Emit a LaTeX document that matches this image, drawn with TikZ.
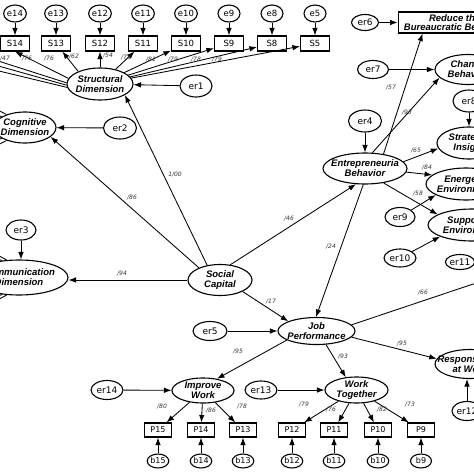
\documentclass[tikz,border=0pt]{standalone}
\usepackage{fontspec}
\setmainfont{DejaVu Sans}
\newfontfamily\latfam{Liberation Sans}
\usetikzlibrary{shapes.geometric,arrows.meta,calc}
\begin{document}
\begin{tikzpicture}[x=1pt,y=-1pt,
  lat/.style={ellipse, draw, line width=1.1pt, inner sep=0pt},
  latl/.style={align=center, inner sep=0pt, font=\latfam\bfseries\itshape\fontsize{9.5}{10}\selectfont},
  redbox/.style={rectangle, draw, line width=1.1pt, inner sep=0pt, align=center, font=\latfam\bfseries\itshape\fontsize{9.5}{9.5}\selectfont},
  errn/.style={ellipse, draw, line width=1.1pt, inner sep=0pt, font=\fontsize{9}{10}\selectfont},
  etop/.style={ellipse, draw, line width=1.1pt, inner sep=0pt, minimum width=22pt, minimum height=17pt, font=\fontsize{8.5}{9}\selectfont},
  bsm/.style={ellipse, draw, line width=1.1pt, inner sep=0pt, minimum width=21pt, minimum height=14pt, font=\fontsize{8}{9}\selectfont},
  ind/.style={rectangle, draw, line width=1.1pt, inner sep=0pt, minimum width=29pt, minimum height=15pt, font=\fontsize{8.5}{9}\selectfont},
  pind/.style={rectangle, draw, line width=1.1pt, inner sep=0pt, minimum width=27pt, minimum height=14pt, font=\fontsize{8}{9}\selectfont},
  arr/.style={-{Latex[length=7.5pt,width=5.5pt]}, line width=0.85pt},
  ld/.style={inner sep=0pt, text=black!80, font=\fontsize{6}{7}\selectfont\itshape}]
\useasboundingbox (0,0) rectangle (474,474);
\fill[white] (0,0) rectangle (474,474);
\clip (0,0) rectangle (474,474);

% ---------- top indicators ----------
\foreach \n/\x in {14/15,13/56,12/100,11/143,10/186,9/229,8/272,5/315} {
  \node[etop] (e\n) at (\x,13.5) {e\n};
  \node[ind] (S\n) at (\x,43.5) {S\n};
  \draw[arr] (e\n) -- (S\n);
}

% ---------- latent variables ----------
\node[lat, minimum width=66pt, minimum height=32pt, label={[latl]center:Structural\\Dimension}] (struct) at (100,84) {};
\node[lat, minimum width=62pt, minimum height=31pt, label={[latl]center:Cognitive\\Dimension}] (cog) at (25,127.5) {};
\node[lat, minimum width=98pt, minimum height=35pt, label={[latl]center:Communication\\Dimension}] (comm) at (19,277.5) {};
\node[lat, minimum width=64pt, minimum height=31pt, label={[latl]center:Social\\Capital}] (social) at (220,280) {};
\node[lat, minimum width=84pt, minimum height=31pt, label={[latl]center:Entrepreneuria\\Behavior}] (entre) at (365,168.5) {};
\node[lat, minimum width=77pt, minimum height=27pt, label={[latl]center:Job\\Performance}] (job) at (316.5,331) {};
\node[lat, minimum width=66pt, minimum height=30pt, label={[latl]center:Change\\Behavior}] (change) at (468,69.5) {};
\node[lat, minimum width=64pt, minimum height=32pt, label={[latl]center:Strategic\\Insight}] (strat) at (469,143) {};
\node[lat, minimum width=80pt, minimum height=32pt, label={[latl]center:Energetic\\Environment}] (energ) at (466,184) {};
\node[lat, minimum width=88pt, minimum height=32pt, label={[latl]center:Supportive\\Environment}] (supp) at (472,225) {};
\node[lat, minimum width=70pt, minimum height=29pt, label={[latl]center:Responsibility\\at Work}] (resp) at (470,364) {};
\node[lat, minimum width=62pt, minimum height=25pt, label={[latl]center:Improve\\Work}] (improve) at (203,390.5) {};
\node[lat, minimum width=63pt, minimum height=26pt, label={[latl]center:Work\\Together}] (work) at (356.5,390) {};
\node[redbox, minimum width=113pt, minimum height=21pt] (reduce) at (454.6,22.5) {Reduce the\\Bureaucratic Behavior};

% ---------- error terms ----------
\node[errn, minimum width=32pt, minimum height=22pt] (er1) at (196,86) {er1};
\node[errn, minimum width=33pt, minimum height=22pt] (er2) at (120,128) {er2};
\node[errn, minimum width=30pt, minimum height=20pt] (er3) at (21,230) {er3};
\node[errn, minimum width=33pt, minimum height=22pt] (er4) at (365,121) {er4};
\node[errn, minimum width=34pt, minimum height=19pt] (er5) at (210,331) {er5};
\node[errn, minimum width=27pt, minimum height=16pt] (er6) at (365,22.5) {er6};
\node[errn, minimum width=31pt, minimum height=18pt] (er7) at (373,69.5) {er7};
\node[errn, minimum width=32pt, minimum height=22pt] (er8) at (469,101) {er8};
\node[errn, minimum width=30pt, minimum height=19pt] (er9) at (400,217) {er9};
\node[errn, minimum width=32pt, minimum height=18pt] (er10) at (400,258) {er10};
\node[errn, minimum width=28pt, minimum height=15pt] (er11) at (460,262) {er11};
\node[errn, minimum width=30pt, minimum height=19pt] (er12) at (467,411) {er12};
\node[errn, minimum width=32pt, minimum height=18pt] (er13) at (261,390) {er13};
\node[errn, minimum width=32pt, minimum height=19pt] (er14) at (107,390) {er14};

% ---------- bottom indicators ----------
\foreach \n/\x in {15/158,14/201,13/243,12/292,11/334,10/378,9/421} {
  \node[pind] (P\n) at (\x,430) {P\n};
  \node[bsm] (b\n) at (\x,461) {b\n};
  \draw[arr] (b\n) -- (P\n);
}

% ---------- off-picture end points ----------
\coordinate (ol1) at (-30,52);
\coordinate (ol2) at (-30,58);
\coordinate (ol3) at (-30,64);
\coordinate (oc1) at (-25,98);
\coordinate (oc2) at (-25,106);
\coordinate (oc3) at (-25,149);
\coordinate (oc4) at (-25,157);
\coordinate (om1) at (-25,243);
\coordinate (om2) at (-25,250);
\coordinate (om3) at (-25,257);
\coordinate (om4) at (-25,298);
\coordinate (om5) at (-25,305);
\coordinate (om6) at (-25,312);
\coordinate (x11) at (500,258);
\coordinate (o66) at (500,275);

% ---------- structural loadings ----------
\draw[arr] (struct.178) -- (ol1);
\draw[arr] (struct.182) -- (ol2);
\draw[arr] (struct.186) -- (ol3);
\draw[arr] (struct.170) -- (S14.south);
\draw[arr] (struct.150) -- (S13);
\draw[arr] (struct) -- (S12);
\draw[arr] (struct) -- (S11);
\draw[arr] (struct) -- (S10);
\draw[arr] (struct) -- (S9);
\draw[arr] (struct) -- (S8);
\draw[arr] (struct) -- (S5);

% cognitive / communication indicators (off picture)
\draw[arr] (cog.145) -- (oc1);
\draw[arr] (cog.155) -- (oc2);
\draw[arr] (cog.205) -- (oc3);
\draw[arr] (cog.215) -- (oc4);
\draw[arr] (comm.125) -- (om1);
\draw[arr] (comm.135) -- (om2);
\draw[arr] (comm.145) -- (om3);
\draw[arr] (comm.215) -- (om4);
\draw[arr] (comm.225) -- (om5);
\draw[arr] (comm.235) -- (om6);

% ---------- structural paths ----------
\draw[arr] (social.131) -- (struct.-24);
\draw[arr] (social.150) -- (cog.-20);
\draw[arr] (social.west) -- (social.west -| comm.east);
\draw[arr] (social.56) -- (entre.240);
\draw[arr] (social.-27) -- (job.161);
\draw[arr] (entre.-96) -- (job.92);

\draw[arr] (entre.38) -- ($(reduce.south west)+(25,0)$);
\draw[arr] (entre.65) -- (change.196);
\draw[arr] (entre.10) -- (strat.190);
\draw[arr] (entre.-5) -- (energ.165);
\draw[arr] (entre.-38) -- (supp.163);

\draw[arr] (job.10) -- (o66);
\draw[arr] (job.-10) -- (resp.171);
\draw[arr] (job.197) -- (improve.40);
\draw[arr] (job.-55) -- (work.130);

\draw[arr] (improve) -- (P15);
\draw[arr] (improve) -- (P14);
\draw[arr] (improve) -- (P13);
\draw[arr] (work) -- (P12);
\draw[arr] (work) -- (P11);
\draw[arr] (work) -- (P10);
\draw[arr] (work) -- (P9);

% ---------- error arrows ----------
\draw[arr] (er1) -- (struct);
\draw[arr] (er2) -- (cog);
\draw[arr] (er3) -- (er3 |- comm.north);
\draw[arr] (er4) -- (entre);
\draw[arr] (er5) -- (job);
\draw[arr] (er6) -- (reduce);
\draw[arr] (er7) -- (change);
\draw[arr] (er8) -- (strat);
\draw[arr] (er9) -- (energ.200);
\draw[arr] (er10) -- (supp.200);
\draw[arr] (er11) -- (x11);
\draw[arr] (er12) -- (er12 |- resp.south);
\draw[arr] (er13) -- (work);
\draw[arr] (er14) -- (improve);

% ---------- coefficient labels ----------
\node[ld] (t1) at (5,59) {/47};
\node[ld] (t2) at (27,59) {/76};
\node[ld] (t3) at (49,59) {/76};
\node[ld] (t4) at (74,57) {/62};
\node[ld] (t5) at (108,56) {/54};
\node[ld] (t6) at (126,58) {/78};
\node[ld] (t7) at (151,60) {/81};
\node[ld] (t8) at (173,60) {/79};
\node[ld] (t9) at (196,60) {/78};
\node[ld] (t10) at (217,60) {/79};
\node[ld] (t11) at (132,198) {/86};
\node[ld] (t12) at (175,175) {1/00};
\node[ld] (t13) at (122,274) {/94};
\node[ld] (t14) at (289,219) {/46};
\node[ld] (t15) at (271,302) {/17};
\node[ld] (t16) at (331,247) {/24};
\node[ld] (t17) at (423,293) {/66};
\node[ld] (t18) at (402,344) {/95};
\node[ld] (t19) at (238,352) {/95};
\node[ld] (t20) at (343,357) {/93};
\node[ld] (t21) at (391,88) {/57};
\node[ld] (t22) at (407,113) {/93};
\node[ld] (t23) at (416,151) {/65};
\node[ld] (t24) at (427,168) {/84};
\node[ld] (t25) at (418,194) {/58};
\node[ld] (t26) at (162,407) {/80};
\node[ld] (t27) at (211,411) {/86};
\node[ld] (t28) at (242,407) {/78};
\node[ld] (t29) at (304,405) {/79};
\node[ld] (t30) at (331,410) {/76};
\node[ld] (t31) at (382,410) {/82};
\node[ld] (t32) at (410,405) {/73};
\end{tikzpicture}
\end{document}
